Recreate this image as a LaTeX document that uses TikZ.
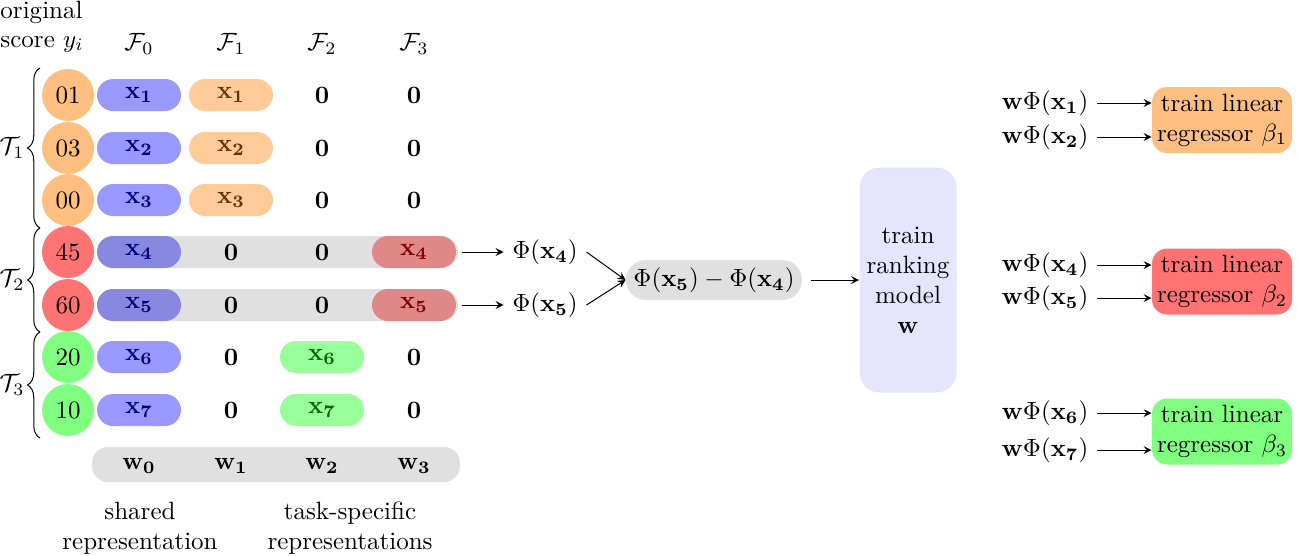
\documentclass[tikz,border=0pt]{standalone}
\usepackage{amsmath,amssymb}
\usetikzlibrary{decorations.pathreplacing,calc}
\definecolor{pillred}{RGB}{224,136,136}
\definecolor{pillblue}{RGB}{136,136,224}
\begin{document}
\begin{tikzpicture}[x=0.4pt,y=-0.4pt,
  circ/.style={circle,minimum size=20.8pt,inner sep=0pt,font=\normalsize},
  pill/.style={rounded corners=6.4pt,minimum width=33.6pt,minimum height=12.8pt,inner sep=0pt},
  zero/.style={inner sep=0pt},
  gbar/.style={fill=black!12,rounded corners=6.4pt},
  arr/.style={->,>=stealth},
  brc/.style={decorate,decoration={brace,amplitude=5pt}},
  box/.style={rounded corners=6pt,align=center,inner sep=2pt}]
\useasboundingbox (0,0) rectangle (1297,555);
% gray bands
\fill[gbar] (97,236) rectangle (458,268);
\fill[gbar] (97,289) rectangle (458,321);
\fill[gbar] (92,447) rectangle (460,482);
% headers
\node[anchor=west,inner sep=0pt] (orig) at (0,12) {original};
\node[anchor=west,inner sep=0pt] (score) at (0,44) {score $y_i$};
\foreach \n/\x in {0/139,1/231,2/322,3/414}{\node (F\n) at (\x,44) {$\mathcal{F}_{\n}$};}
% circles
\foreach \i/\y/\v/\c in {1/95/01/orange!50,2/148/03/orange!50,3/200/00/orange!50,4/252/45/red!55,5/305/60/red!55,6/357/20/green!50,7/410/10/green!50}{
  \node[circ,fill=\c] (c\i) at (68,\y) {\v};
}
% F0 column
\foreach \i/\y in {1/95,2/148,3/200,6/357,7/410}{
  \node[pill,fill=blue!40,text=blue!50!black] (a\i) at (139,\y) {$\mathbf{x_{\i}}$};}
\foreach \i/\y in {4/252,5/305}{
  \node[pill,fill=pillblue,text=blue!50!black] (a\i) at (139,\y) {$\mathbf{x_{\i}}$};}
% F1
\foreach \i/\y in {1/95,2/148,3/200}{
  \node[pill,fill=orange!40,text=orange!40!black] (b\i) at (231,\y) {$\mathbf{x_{\i}}$};
  \node[zero] (cc\i) at (322,\y) {$\mathbf{0}$};
  \node[zero] (d\i) at (414,\y) {$\mathbf{0}$};}
\foreach \i/\y in {4/252,5/305}{
  \node[zero] (b\i) at (231,\y) {$\mathbf{0}$};
  \node[zero] (cc\i) at (322,\y) {$\mathbf{0}$};
  \node[pill,fill=pillred,text=red!50!black] (d\i) at (414,\y) {$\mathbf{x_{\i}}$};}
\foreach \i/\y in {6/357,7/410}{
  \node[zero] (b\i) at (231,\y) {$\mathbf{0}$};
  \node[pill,fill=green!40,text=green!40!black] (cc\i) at (322,\y) {$\mathbf{x_{\i}}$};
  \node[zero] (d\i) at (414,\y) {$\mathbf{0}$};}
% w row
\foreach \n/\x in {0/139,1/231,2/322,3/414}{\node (w\n) at (\x,466) {$\mathbf{w_{\n}}$};}
% bottom labels
\node[align=center] (shared) at (140,528) {shared\\representation};
\node[align=center] (task) at (350,528) {task-specific\\representations};
% braces
\draw[brc] (40,228) -- (40,68) node[midway,left=6pt,inner sep=0pt] (T1) {$\mathcal{T}_1$};
\draw[brc] (40,332) -- (40,228) node[midway,left=6pt,inner sep=0pt] (T2) {$\mathcal{T}_2$};
\draw[brc] (40,438) -- (40,332) node[midway,left=6pt,inner sep=0pt] (T3) {$\mathcal{T}_3$};
% Phi
\node (p4) at (545,252) {$\Phi(\mathbf{x_4})$};
\node (p5) at (545,305) {$\Phi(\mathbf{x_5})$};
\draw[arr] (d4.east)++(5,0) coordinate (s4) -- (p4.west);
\draw[arr] (d5.east)++(5,0) coordinate (s5) -- (p5.west);
\node[fill=black!12,rounded corners=8pt,minimum height=14pt,inner sep=3pt] (diff) at (714,280) {$\Phi(\mathbf{x_5})-\Phi(\mathbf{x_4})$};
\draw[arr] (p4.east) -- (diff.west);
\draw[arr] (p5.east) -- (diff.west);
\node[box,fill=blue!10,minimum width=38.8pt,minimum height=90pt,rounded corners=8pt] (rank) at (908,280) {train\\ranking\\model\\$\mathbf{w}$};
\draw[arr] (diff.east)++(8,0) -- (rank.west);
% right
\foreach \g/\a/\b/\ya/\yb/\c in {1/1/2/103/137/orange!50,2/4/5/265/298/red!55,3/6/7/413/450/green!50}{
  \node (r\a) at (1045,\ya) {$\mathbf{w}\Phi(\mathbf{x_{\a}})$};
  \node (r\b) at (1045,\yb) {$\mathbf{w}\Phi(\mathbf{x_{\b}})$};
  \node[box,fill=\c,minimum width=56pt,minimum height=26.4pt] (reg\g) at (1222,{(\ya+\yb)/2}) {train linear\\regressor $\beta_{\g}$};
  \draw[arr] (r\a.east) -- (reg\g.west |- r\a);
  \draw[arr] (r\b.east) -- (reg\g.west |- r\b);
}
\end{tikzpicture}
\end{document}
